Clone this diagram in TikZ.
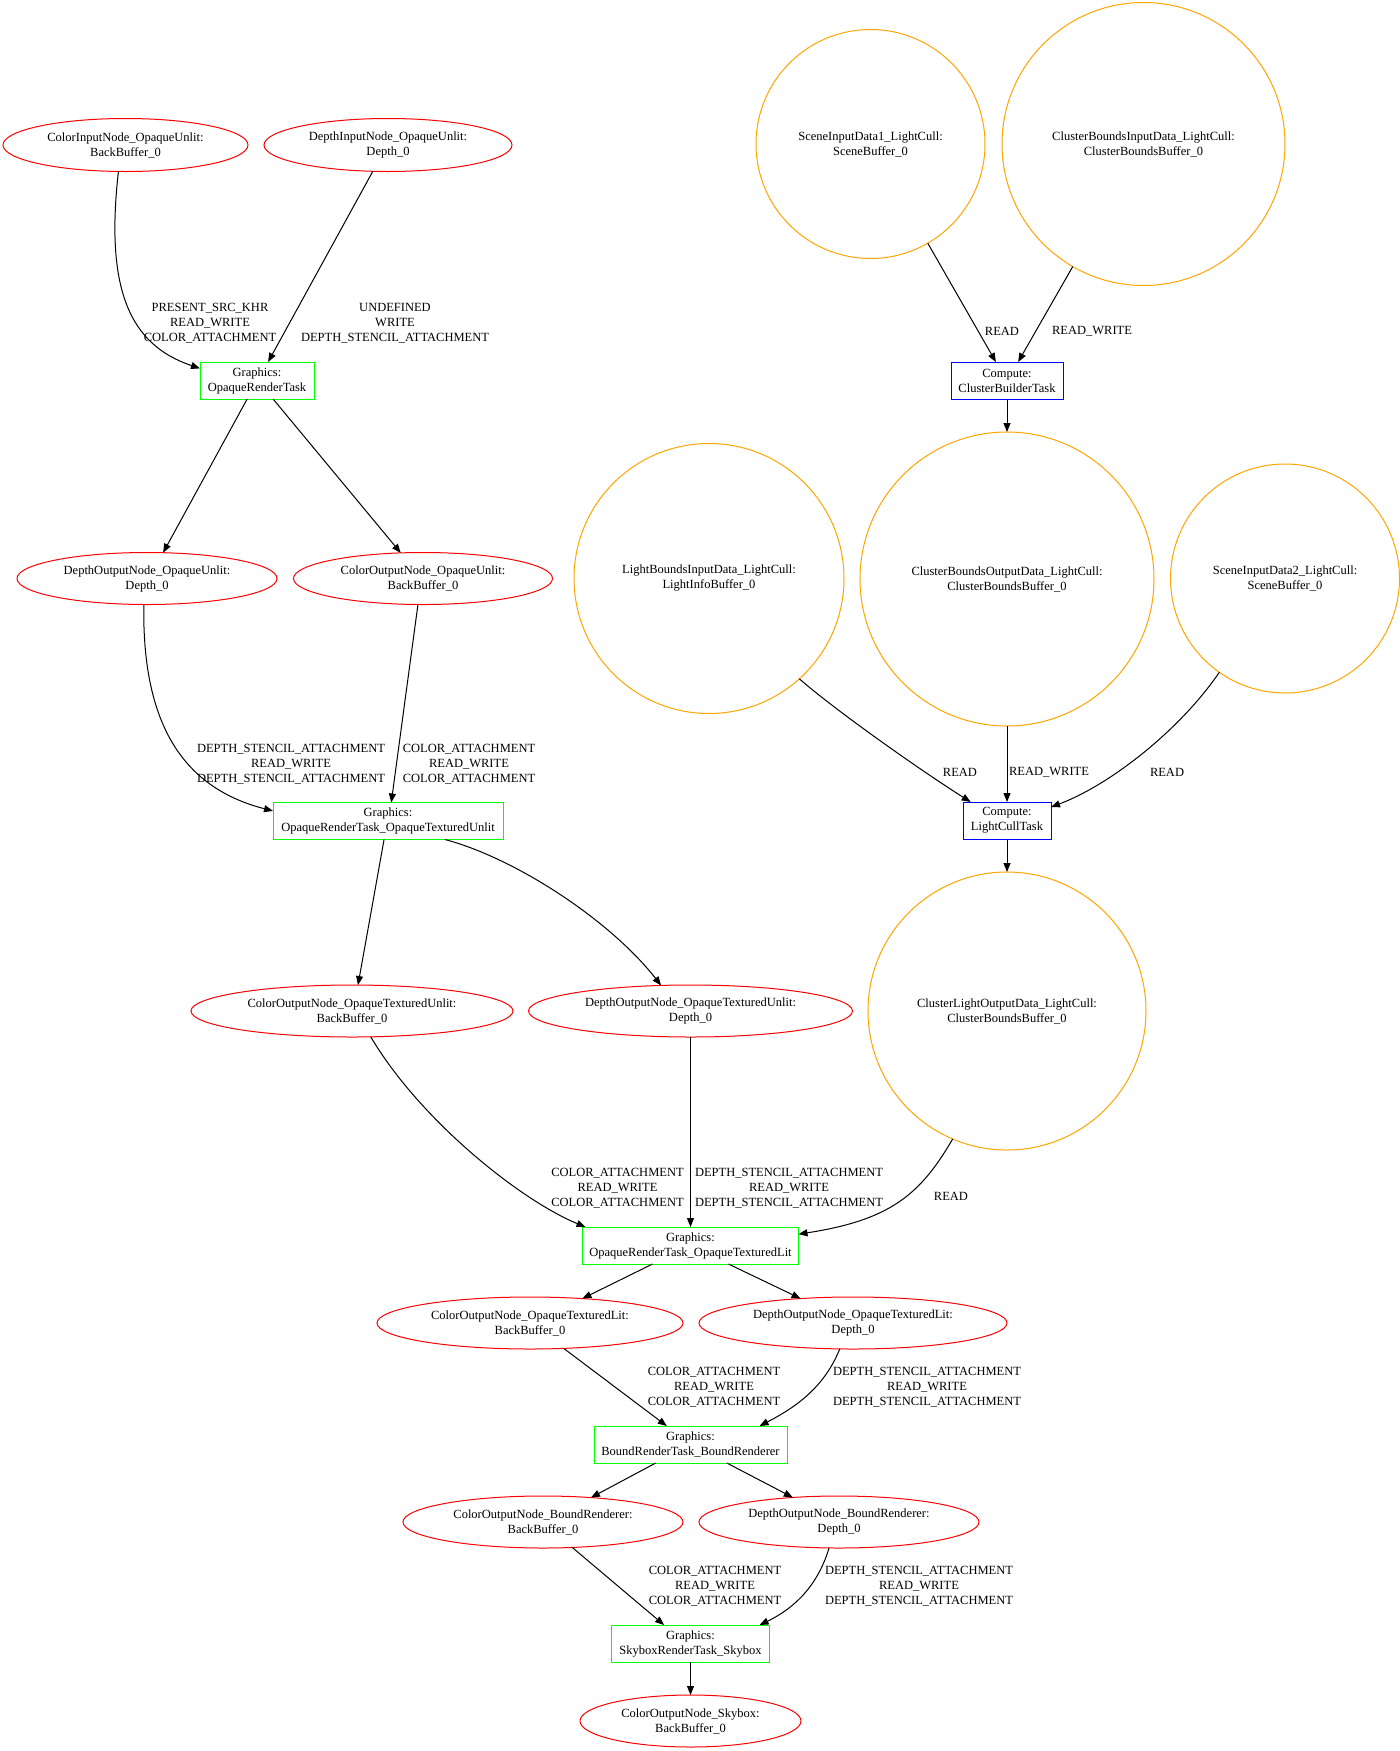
\documentclass[tikz,border=0pt]{standalone}
\usepackage{fontspec}
\setmainfont{Liberation Serif}
\usetikzlibrary{shapes.geometric,arrows.meta}
\definecolor{gvred}{RGB}{255,0,0}
\definecolor{gvgreen}{RGB}{0,255,0}
\definecolor{gvblue}{RGB}{0,0,255}
\definecolor{gvorange}{RGB}{255,165,0}
\newcommand\gvfs{\fontsize{12.5}{15}\selectfont}
\tikzset{
  res/.style={ellipse, draw=gvred, line width=1pt, inner sep=0pt, outer sep=0pt, align=center, font=\gvfs},
  buf/.style={circle, draw=gvorange, line width=1pt, inner sep=0pt, outer sep=0pt, align=center, font=\gvfs},
  gfx/.style={rectangle, draw=gvgreen, line width=1pt, inner sep=0pt, outer sep=0pt, align=center, font=\gvfs, minimum height=37pt},
  cmp/.style={rectangle, draw=gvblue, line width=1pt, inner sep=0pt, outer sep=0pt, align=center, font=\gvfs, minimum height=37pt},
  conn/.style={draw=black, line width=1pt, -{Triangle[length=9pt,width=7pt]}},
  lbl/.style={align=center, inner sep=0pt, font=\gvfs}
}
\begin{document}
\begin{tikzpicture}[x=1pt,y=-1pt]
\useasboundingbox (0,0) rectangle (1400,1751);
\fill[white] (0,0) rectangle (1400,1751);

% left column nodes
\node[res, minimum width=245pt, minimum height=53pt] (CIN) at (125.5,145) {ColorInputNode\_OpaqueUnlit:\\BackBuffer\_0};
\node[res, minimum width=248pt, minimum height=53pt] (DIN) at (388,145) {DepthInputNode\_OpaqueUnlit:\\Depth\_0};
\node[gfx, minimum width=114pt] (ORT) at (257,380.5) {Graphics:\\OpaqueRenderTask};
\node[res, minimum width=260pt, minimum height=52pt] (DOOU) at (147,578.5) {DepthOutputNode\_OpaqueUnlit:\\Depth\_0};
\node[res, minimum width=259pt, minimum height=52pt] (COOU) at (423,578.5) {ColorOutputNode\_OpaqueUnlit:\\BackBuffer\_0};
\node[gfx, minimum width=230pt] (OTU) at (388,821) {Graphics:\\OpaqueRenderTask\_OpaqueTexturedUnlit};
\node[res, minimum width=322pt, minimum height=52pt] (COOTU) at (352,1011) {ColorOutputNode\_OpaqueTexturedUnlit:\\BackBuffer\_0};
\node[res, minimum width=324pt, minimum height=52pt] (DOOTU) at (690.5,1011) {DepthOutputNode\_OpaqueTexturedUnlit:\\Depth\_0};
\node[gfx, minimum width=216pt] (OTL) at (690.5,1245.5) {Graphics:\\OpaqueRenderTask\_OpaqueTexturedLit};
\node[res, minimum width=306pt, minimum height=52pt] (COOTL) at (530,1323) {ColorOutputNode\_OpaqueTexturedLit:\\BackBuffer\_0};
\node[res, minimum width=308pt, minimum height=52pt] (DOOTL) at (853,1323) {DepthOutputNode\_OpaqueTexturedLit:\\Depth\_0};
\node[gfx, minimum width=193pt] (BR) at (690.5,1444.5) {Graphics:\\BoundRenderTask\_BoundRenderer};
\node[res, minimum width=280pt, minimum height=52pt] (COBR) at (543,1522) {ColorOutputNode\_BoundRenderer:\\BackBuffer\_0};
\node[res, minimum width=280pt, minimum height=52pt] (DOBR) at (839,1522) {DepthOutputNode\_BoundRenderer:\\Depth\_0};
\node[gfx, minimum width=158pt] (SB) at (690.5,1643.5) {Graphics:\\SkyboxRenderTask\_Skybox};
\node[res, minimum width=221pt, minimum height=52pt] (COSB) at (690.5,1721) {ColorOutputNode\_Skybox:\\BackBuffer\_0};

% right column nodes
\node[buf, minimum size=229pt] (SI1) at (870.5,144) {SceneInputData1\_LightCull:\\SceneBuffer\_0};
\node[buf, minimum size=283pt] (CBI) at (1143.5,144) {ClusterBoundsInputData\_LightCull:\\ClusterBoundsBuffer\_0};
\node[cmp, minimum width=112pt] (CBT) at (1007,380.5) {Compute:\\ClusterBuilderTask};
\node[buf, minimum size=270pt] (LBI) at (709,578.5) {LightBoundsInputData\_LightCull:\\LightInfoBuffer\_0};
\node[buf, minimum size=294pt] (CBO) at (1007,579) {ClusterBoundsOutputData\_LightCull:\\ClusterBoundsBuffer\_0};
\node[buf, minimum size=229pt] (SI2) at (1285,578.5) {SceneInputData2\_LightCull:\\SceneBuffer\_0};
\node[cmp, minimum width=88pt] (LCT) at (1007,820.5) {Compute:\\LightCullTask};
\node[buf, minimum size=278pt] (CLO) at (1007,1011) {ClusterLightOutputData\_LightCull:\\ClusterBoundsBuffer\_0};

% connectors
\draw[conn] (CIN.-105) .. controls (105,290) and (130,345) .. (ORT.168);
\draw[conn] (DIN.-120) -- (ORT.59);
\draw[conn] (ORT.-118) -- (DOOU.58);
\draw[conn] (ORT.-49) -- (COOU.131);
\draw[conn] (DOOU.-97) .. controls (142,720) and (180,787) .. (OTU.175);
\draw[conn] (COOU.-101) -- (OTU.80);
\draw[conn] (OTU.-102) -- (COOTU.77);
\draw[conn] (OTU.-18) .. controls (515,858) and (610,920) .. (DOOTU.139);
\draw[conn] (COOTU.-54) .. controls (420,1120) and (520,1200) .. (OTL.170);
\draw[conn] (DOOTU.south) -- (OTL.north);
\draw[conn] (CLO.-113) .. controls (920,1195) and (890,1220) .. (OTL.6.5);
\draw[conn] (OTL.-154) -- (COOTL.25);
\draw[conn] (OTL.-26) -- (DOOTL.155);
\draw[conn] (COOTL.-37) -- (BR.142);
\draw[conn] (DOOTL.-117) .. controls (825,1385) and (800,1405) .. (BR.15);
\draw[conn] (BR.-152) -- (COBR.27);
\draw[conn] (BR.-27.5) -- (DOBR.152);
\draw[conn] (COBR.-41) -- (SB.145);
\draw[conn] (DOBR.-111) .. controls (818,1585) and (795,1608) .. (SB.15);
\draw[conn] (SB.south) -- (COSB.north);
\draw[conn] (SI1.-60) -- (CBT.121);
\draw[conn] (CBI.-120) -- (CBT.59);
\draw[conn] (CBT.south) -- (CBO.north);
\draw[conn] (LBI.-48) .. controls (835,710) and (920,770) .. (LCT.153);
\draw[conn] (CBO.south) -- (LCT.north);
\draw[conn] (SI2.-125) .. controls (1180,730) and (1110,785) .. (LCT.17);
\draw[conn] (LCT.south) -- (CLO.north);

% labels
\node[lbl] (l1) at (210,323) {PRESENT\_SRC\_KHR\\READ\_WRITE\\COLOR\_ATTACHMENT};
\node[lbl] (l2) at (395,323) {UNDEFINED\\WRITE\\DEPTH\_STENCIL\_ATTACHMENT};
\node[lbl] (l5) at (291,764) {DEPTH\_STENCIL\_ATTACHMENT\\READ\_WRITE\\DEPTH\_STENCIL\_ATTACHMENT};
\node[lbl] (l6) at (469,764) {COLOR\_ATTACHMENT\\READ\_WRITE\\COLOR\_ATTACHMENT};
\node[lbl] (l9) at (617.5,1188) {COLOR\_ATTACHMENT\\READ\_WRITE\\COLOR\_ATTACHMENT};
\node[lbl] (l10) at (789,1188) {DEPTH\_STENCIL\_ATTACHMENT\\READ\_WRITE\\DEPTH\_STENCIL\_ATTACHMENT};
\node[lbl] (l11) at (951,1196) {READ};
\node[lbl] (l14) at (714,1387) {COLOR\_ATTACHMENT\\READ\_WRITE\\COLOR\_ATTACHMENT};
\node[lbl] (l15) at (927,1387) {DEPTH\_STENCIL\_ATTACHMENT\\READ\_WRITE\\DEPTH\_STENCIL\_ATTACHMENT};
\node[lbl] (l18) at (715,1586) {COLOR\_ATTACHMENT\\READ\_WRITE\\COLOR\_ATTACHMENT};
\node[lbl] (l19) at (919,1586) {DEPTH\_STENCIL\_ATTACHMENT\\READ\_WRITE\\DEPTH\_STENCIL\_ATTACHMENT};
\node[lbl] (l21) at (1002,331) {READ};
\node[lbl] (l22) at (1092,331) {READ\_WRITE};
\node[lbl] (l24) at (960,772) {READ};
\node[lbl] (l25) at (1049,772) {READ\_WRITE};
\node[lbl] (l26) at (1167,772) {READ};
\end{tikzpicture}
\end{document}
